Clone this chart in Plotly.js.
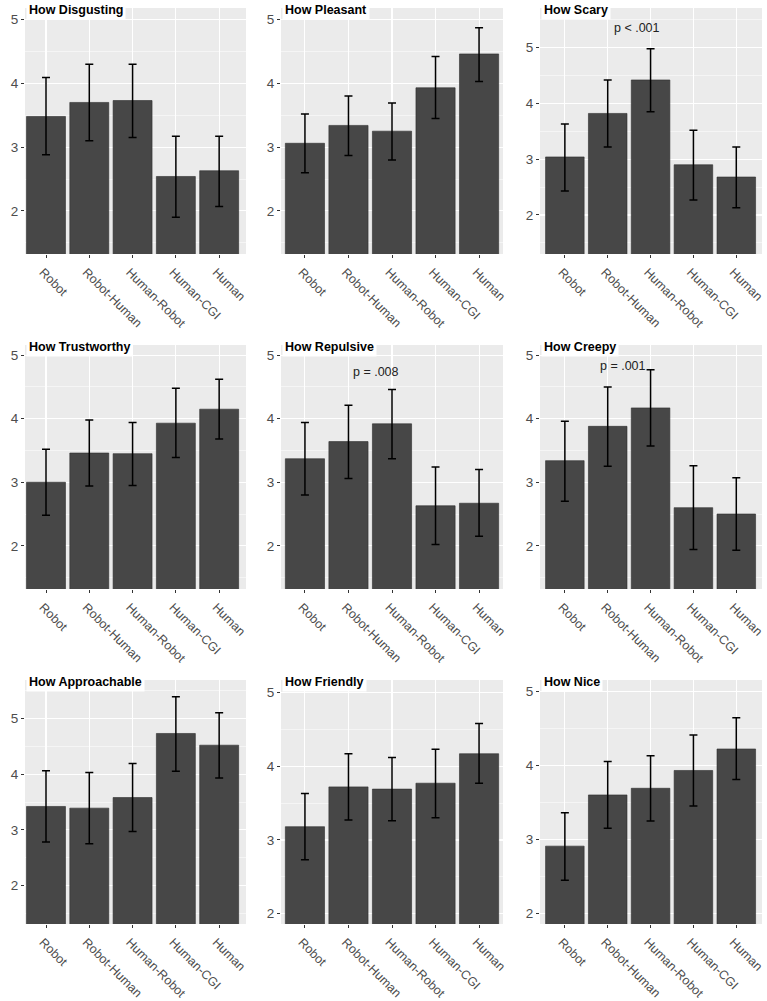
<!DOCTYPE html>
<html>
<head>
<meta charset="utf-8">
<script src="https://cdn.plot.ly/plotly-3.0.1.min.js"></script>
<style>
  html, body { margin: 0; padding: 0; background: white; }
  #plot { width: 767px; height: 1001px; }
</style>
</head>
<body>
<div id="plot"></div>
<script>
// categories, same for every panel
const categories = ['Robot', 'Robot-Human', 'Human-Robot', 'Human-CGI', 'Human'];

const titles = ['How Disgusting', 'How Pleasant', 'How Scary',
                'How Trustworthy', 'How Repulsive', 'How Creepy',
                'How Approachable', 'How Friendly', 'How Nice'];

// means, and upper / lower ends of the error bars
const disgusting    = [3.48, 3.70, 3.73, 2.54, 2.63];
const disgusting_hi = [4.09, 4.30, 4.30, 3.17, 3.17];
const disgusting_lo = [2.88, 3.10, 3.15, 1.90, 2.07];

const pleasant    = [3.06, 3.34, 3.25, 3.93, 4.46];
const pleasant_hi = [3.52, 3.80, 3.69, 4.42, 4.87];
const pleasant_lo = [2.60, 2.87, 2.80, 3.45, 4.03];

const scary    = [3.04, 3.82, 4.42, 2.90, 2.68];
const scary_hi = [3.63, 4.42, 4.98, 3.52, 3.22];
const scary_lo = [2.43, 3.22, 3.85, 2.27, 2.13];

const trustworthy    = [3.00, 3.46, 3.45, 3.93, 4.15];
const trustworthy_hi = [3.52, 3.98, 3.94, 4.48, 4.62];
const trustworthy_lo = [2.48, 2.94, 2.95, 3.39, 3.68];

const repulsive    = [3.37, 3.64, 3.92, 2.63, 2.67];
const repulsive_hi = [3.94, 4.21, 4.46, 3.24, 3.20];
const repulsive_lo = [2.80, 3.06, 3.37, 2.02, 2.15];

const creepy    = [3.34, 3.88, 4.17, 2.60, 2.50];
const creepy_hi = [3.96, 4.50, 4.77, 3.26, 3.07];
const creepy_lo = [2.70, 3.25, 3.57, 1.94, 1.93];

const approachable    = [3.42, 3.39, 3.58, 4.73, 4.52];
const approachable_hi = [4.06, 4.03, 4.19, 5.39, 5.10];
const approachable_lo = [2.78, 2.75, 2.97, 4.05, 3.93];

const friendly    = [3.18, 3.72, 3.69, 3.77, 4.17];
const friendly_hi = [3.63, 4.17, 4.12, 4.23, 4.58];
const friendly_lo = [2.73, 3.27, 3.26, 3.30, 3.77];

const nice    = [2.91, 3.60, 3.69, 3.93, 4.22];
const nice_hi = [3.36, 4.05, 4.13, 4.41, 4.64];
const nice_lo = [2.45, 3.15, 3.25, 3.45, 3.81];

// p-value labels: panel index, text, x (category position), y
const pLabels = [
  [2, 'p < .001', 1.69, 5.35],
  [4, 'p = .008', 1.64, 4.73],
  [5, 'p = .001', 1.36, 4.83]
];

const panels = [
  [disgusting, disgusting_hi, disgusting_lo],
  [pleasant, pleasant_hi, pleasant_lo],
  [scary, scary_hi, scary_lo],
  [trustworthy, trustworthy_hi, trustworthy_lo],
  [repulsive, repulsive_hi, repulsive_lo],
  [creepy, creepy_hi, creepy_lo],
  [approachable, approachable_hi, approachable_lo],
  [friendly, friendly_hi, friendly_lo],
  [nice, nice_hi, nice_lo]
];

// layout bits (pixels)
const W = 767, H = 1001;
const colPx = [[25, 246], [281, 503], [540, 762]];
const rowPx = [[8, 254], [345, 589], [680, 924]];
const xRanges = [[-0.485, 4.62], [-0.55, 4.55], [-0.58, 4.6]];
const yRanges = [
  [1.325, 5.18], [1.325, 5.18], [1.30, 5.71],
  [1.32, 5.16], [1.32, 5.16], [1.32, 5.16],
  [1.31, 5.69], [1.86, 5.17], [1.86, 5.15]
];

const FONT = 'Liberation Sans, Arial, Helvetica, sans-serif';

const traces = [];
const layout = {
  width: W, height: H,
  margin: { t: 0, b: 0, l: 0, r: 0 },
  paper_bgcolor: 'white',
  plot_bgcolor: '#EBEBEB',
  showlegend: false,
  font: { family: FONT, color: '#4D4D4D' },
  annotations: []
};

panels.forEach(([mean, hi, lo], i) => {
  const n = i + 1;
  const sfx = n === 1 ? '' : n;
  const col = i % 3, row = Math.floor(i / 3);

  traces.push({
    type: 'bar',
    x: categories,
    y: mean,
    width: 0.9,
    xaxis: 'x' + sfx,
    yaxis: 'y' + sfx,
    marker: { color: '#474747', line: { color: '#2E2E2E', width: 0.6 } },
    error_y: {
      type: 'data',
      symmetric: false,
      array: hi.map((v, k) => v - mean[k]),
      arrayminus: lo.map((v, k) => mean[k] - v),
      color: 'black',
      thickness: 1.5,
      width: 4
    },
    hoverinfo: 'none'
  });

  const [x0, x1] = colPx[col];
  const [y0, y1] = rowPx[row];

  layout['xaxis' + sfx] = {
    domain: [x0 / W, x1 / W],
    anchor: 'y' + sfx,
    type: 'category',
    categoryorder: 'array',
    categoryarray: categories,
    range: xRanges[col],
    showgrid: true,
    gridcolor: 'white',
    gridwidth: 1.1,
    zeroline: false,
    showline: false,
    ticks: 'outside',
    ticklen: 3,
    tickwidth: 1,
    tickcolor: '#333333',
    tickangle: 45,
    ticklabelshift: -3,
    ticklabelstandoff: 2,
    tickfont: { family: FONT, size: 12.5, color: '#4D4D4D' },
    fixedrange: true
  };

  layout['yaxis' + sfx] = {
    domain: [1 - y1 / H, 1 - y0 / H],
    anchor: 'x' + sfx,
    range: yRanges[i],
    tickvals: [2, 3, 4, 5],
    showgrid: true,
    gridcolor: 'white',
    gridwidth: 1.1,
    minor: { tickvals: [1.5, 2.5, 3.5, 4.5, 5.5], showgrid: true, gridcolor: '#F7F7F7', gridwidth: 0.8 },
    zeroline: false,
    showline: false,
    ticks: 'outside',
    ticklen: 3,
    tickwidth: 1,
    tickcolor: '#333333',
    tickfont: { family: FONT, size: 13.5, color: '#4D4D4D' },
    fixedrange: true
  };

  // panel title, white box sitting over the top-left corner
  layout.annotations.push({
    xref: 'paper', yref: 'paper',
    x: (x0 + 1) / W, y: 1 - (y0 + 2) / H,
    xanchor: 'left', yanchor: 'middle',
    text: '<b>' + titles[i] + '</b>',
    showarrow: false,
    bgcolor: 'white',
    borderpad: 2,
    font: { family: FONT, size: 12.5, color: 'black' }
  });
});

pLabels.forEach(([i, text, x, y]) => {
  const sfx = i === 0 ? '' : i + 1;
  layout.annotations.push({
    xref: 'x' + sfx, yref: 'y' + sfx,
    x, y,
    text,
    showarrow: false,
    font: { family: FONT, size: 12.5, color: '#222222' }
  });
});

Plotly.newPlot('plot', traces, layout, { staticPlot: true });
</script>
</body>
</html>
